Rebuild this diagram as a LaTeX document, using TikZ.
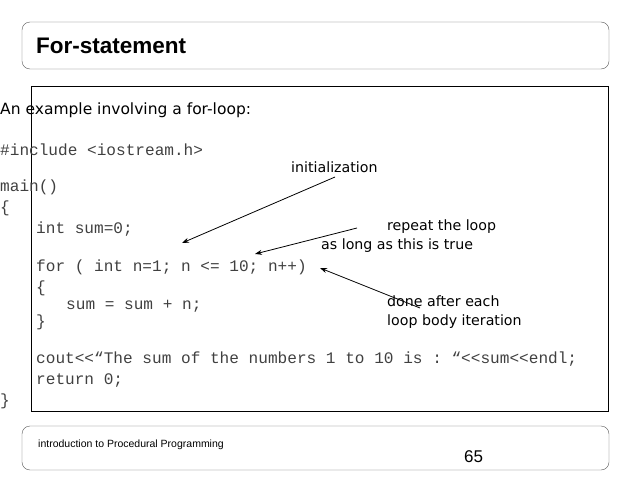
\documentclass[tikz,border=0pt]{standalone}
\usepackage{fontspec}
\setmainfont{Liberation Sans}
\setmonofont{Liberation Mono}
\newfontfamily\notefont{DejaVu Sans}
\usetikzlibrary{arrows.meta}
\begin{document}
\begin{tikzpicture}[x=1pt,y=-1pt,
  code/.style={anchor=base west,inner sep=0,font=\ttfamily\fontsize{16.1}{18}\selectfont,text=black!75},
  note/.style={anchor=base west,inner sep=0,font=\notefont\fontsize{14.2}{17}\selectfont},
  arr/.style={-{Stealth[length=7pt,width=5pt]},line width=0.8pt}]
\useasboundingbox (0,0) rectangle (638,479);
\draw[rounded corners=8pt,gray!70!black] (22,22) rectangle (609,69);
\node[anchor=base west,inner sep=0,font=\bfseries\fontsize{22.5}{24}\selectfont] (t) at (36,53) {For-statement};
\draw[black] (31,86) rectangle (608,411);
\node[anchor=base west,inner sep=0,font=\notefont\fontsize{15.5}{18}\selectfont] (ex) at (0,114) {An example involving a for-loop:};
\node[code] (l1) at (0,155) {\#include <iostream.h>};
\node[code] (l2) at (0,191) {main()};
\node[code] (l3) at (0,212) {\{};
\node[code] (l4) at (36,233) {int sum=0;};
\node[code] (l5) at (36,271) {for ( int n=1; n <= 10; n++)};
\node[code] (l6) at (36,292) {\{};
\node[code] (l7) at (66,309) {sum = sum + n;};
\node[code] (l8) at (36,326) {\}};
\node[code] (l9) at (36,363) {cout<<“The sum of the numbers 1 to 10 is : “<<sum<<endl;};
\node[code] (l10) at (36,384) {return 0;};
\node[code] (l11) at (0,405) {\}};
\node[note] (n1) at (291,172) {initialization};
\node[note] (n2) at (387,230) {repeat the loop};
\node[note] (n2b) at (321,249) {as long as this is true};
\node[note] (n3) at (387,306) {done after each};
\node[note] (n3b) at (387,325) {loop body iteration};
\coordinate (a1) at (182,243);
\coordinate (a2) at (255,254);
\coordinate (a3) at (320,268);
\coordinate (s1) at (335,177);
\coordinate (s2) at (357,228);
\coordinate (s3) at (420,308);
\draw[arr] (s1) -- (a1);
\draw[arr] (s2) -- (a2);
\draw[arr] (s3) -- (a3);
\draw[rounded corners=8pt,gray!70!black] (22,426) rectangle (609,470);
\node[anchor=base west,inner sep=0,font=\fontsize{10.5}{12}\selectfont] (f) at (38,447) {introduction to Procedural Programming};
\node[anchor=base west,inner sep=0,font=\fontsize{17}{19}\selectfont] (p) at (464,462) {65};
\end{tikzpicture}
\end{document}
